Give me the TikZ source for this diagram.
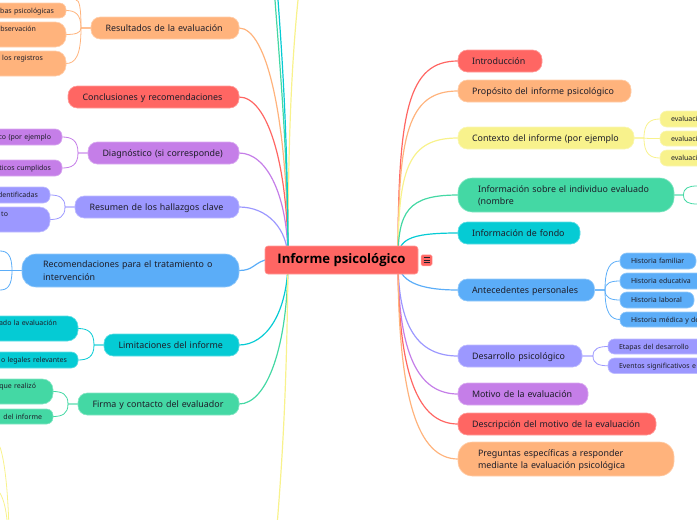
\documentclass[tikz,border=0pt]{standalone}
\usepackage{fontspec}
\setmainfont{Noto Sans}
\newfontfamily\ctrfont{Open Sans}
\usetikzlibrary{calc,backgrounds}
\definecolor{cred}{HTML}{FF6663}
\definecolor{corange}{HTML}{FFB37C}
\definecolor{cyellow}{HTML}{F8F28C}
\definecolor{cgreen}{HTML}{44D8A4}
\definecolor{cteal}{HTML}{05CBD4}
\definecolor{cblue}{HTML}{5BADF8}
\definecolor{clav}{HTML}{9C98FF}
\definecolor{cpurple}{HTML}{C57EE8}
\definecolor{cink}{HTML}{1E1E2A}
\tikzset{
  boxbase/.style={rectangle,outer sep=0pt,inner ysep=0pt,text=cink},
  mainfont/.style={font=\fontsize{8.9}{12.3}\selectfont},
  subfont/.style={font=\fontsize{7}{9}\selectfont},
  mainline/.style={line width=1.2pt,line cap=round},
  subline/.style={line width=0.8pt,line cap=round}
}
\newcommand{\mb}[1]{\mbox{\rule[-.29em]{0pt}{1.37em}#1}}
% name,x1,x2,y1,y2,colour,inset,align,font style,text
\newcommand{\mapbox}[9]{%
  \pgfmathsetmacro\bw{#3-#2}\pgfmathsetmacro\bh{#5-#4}%
  \pgfmathsetmacro\bcx{(#2+#3)/2}\pgfmathsetmacro\bcy{(#4+#5)/2}%
  \pgfmathsetmacro\br{.42*\bh}\pgfmathsetmacro\bt{\bw-2*#7}%
  \node[boxbase,#9,fill=#6,draw=#6!65!white,line width=.6pt,minimum width=\bw pt,minimum height=\bh pt,
    rounded corners=\br pt,text width=\bt pt,inner xsep=#7 pt,align=#8] (#1) at (\bcx,\bcy) {\boxtext};}
\newcommand{\mainR}[6]{\def\boxtext{#6}\mapbox{#1}{458}{#2}{#3}{#4}{#5}{\ifdim\dimexpr#4pt-#3pt\relax>30pt 20\else 14\fi}{left}{mainfont}}
\newcommand{\mainL}[6]{\def\boxtext{#6}\mapbox{#1}{#2}{239}{#3}{#4}{#5}{\ifdim\dimexpr#4pt-#3pt\relax>30pt 21\else 14.5\fi}{left}{mainfont}}
\newcommand{\subR}[7]{\def\boxtext{#7}\mapbox{#1}{#2}{#3}{#4}{#5}{#6}{11}{left}{subfont}}
\newcommand{\subL}[7][12]{\def\boxtext{#7}\mapbox{#2}{-160}{#3}{#4}{#5}{#6}{#1}{right}{subfont}}
% main connectors
\newcommand{\conR}[2]{\draw[mainline,#2] (#1.west) .. controls ($(#1.west)+(-50,0)$) and ($(cr)!.75!(cr|-#1.west)$) .. (cr);}
\newcommand{\conRb}[2]{\draw[mainline,#2] (#1.west) .. controls ($(#1.west)+(-40,0)$) and ($(cr)!.7!(cr|-#1.west)$) .. (cr);}
\newcommand{\conL}[2]{\draw[mainline,#2] (#1.east) .. controls ($(#1.east)+(28,0)$) and ($(cl)!.6!(cl|-#1.west)$) .. (cl);}
% bracket connectors: parent anchor, horizontal step, child anchor, colour
\newcommand{\bracket}[4]{%
  \coordinate (jj) at ($(#1)+(#2,0)$);
  \draw[subline,#4] (#1) -- (jj) .. controls ($(jj)!.8!(jj|-#3)$) and ($(#3)!.6!(jj|-#3)$) .. (#3);}
\begin{document}
\begin{tikzpicture}[x=1pt,y=-1pt]
\useasboundingbox (0,0) rectangle (697,520);
\coordinate (cl) at (288,260);
\coordinate (cr) at (398,260);
\coordinate (offtopA) at (298,0);
\coordinate (offtopB) at (278,0);
\coordinate (offtopC) at (275,0);
\coordinate (offbot) at (277.5,520);
\coordinate (offres) at (76,0);
\coordinate (offrecA) at (0,251);
\coordinate (offrecB) at (0,290);
\coordinate (offinfA) at (697,186);
\coordinate (offinfB) at (697,204);
\coordinate (offcornA) at (0,447);
\coordinate (offcornB) at (8.7,520);
\coordinate (offcornC) at (0,493);
\coordinate (offcornD) at (7,520);

% centre
\node[rectangle,fill=cred,draw=cred!65!white,line width=.6pt,rounded corners=3pt,minimum width=153pt,minimum height=28pt,inner sep=0pt,text=black,outer sep=0pt,font=\ctrfont\bfseries\fontsize{13.1}{15}\selectfont] (centre) at (341.5,260) {Informe psicológico};
\node[rectangle,fill=cred,draw=cred!65!white,line width=.5pt,rounded corners=1.5pt,minimum width=11pt,minimum height=11pt,inner sep=0pt] (menu) at (426.5,260.3) {};
\draw[cink,line width=.9pt] ($(menu.center)+(-3,-2.6)$) -- ($(menu.center)+(3,-2.6)$);
\draw[cink,line width=.9pt] ($(menu.center)+(-3,0)$) -- ($(menu.center)+(3,0)$);
\draw[cink,line width=.9pt] ($(menu.center)+(-3,2.6)$) -- ($(menu.center)+(3,2.6)$);

% right main
\mainR{intro}{542}{50}{72}{cred}{\mb{Introducción}}
\mainR{prop}{631}{80}{102}{corange}{\mb{Propósito del informe psicológico}}
\mainR{ctx}{634}{127}{149}{cyellow}{\mb{Contexto del informe (por ejemplo}}
\mainR{indiv}{674}{178}{212}{cgreen}{\mb{Información sobre el individuo evaluado}\\\mb{(nombre}}
\mainR{fondo}{580}{222}{244}{cteal}{\mb{Información de fondo}}
\mainR{antec}{594.5}{279}{301}{cblue}{\mb{Antecedentes personales}}
\mainR{desa}{582}{345}{367}{clav}{\mb{Desarrollo psicológico}}
\mainR{motivo}{588}{383}{405}{cpurple}{\mb{Motivo de la evaluación}}
\mainR{descr}{656}{413}{435}{cred}{\mb{Descripción del motivo de la evaluación}}
\mainR{preg}{674}{442}{476}{corange}{\mb{Preguntas específicas a responder}\\\mb{mediante la evaluación psicológica}}

% right subs
\subR{ev1}{660}{730}{111}{127}{cyellow}{\mb{evaluaci}}
\subR{ev2}{660}{730}{131}{146}{cyellow}{\mb{evaluaci}}
\subR{ev3}{660}{730}{150}{166}{cyellow}{\mb{evaluaci}}
\subR{hfam}{620}{696}{253}{269}{cblue}{\mb{Historia familiar}}
\subR{hedu}{620}{730}{273}{289}{cblue}{\mb{Historia educativa}}
\subR{hlab}{620}{694}{292}{308}{cblue}{\mb{Historia laboral}}
\subR{hmed}{620}{760}{312}{327}{cblue}{\mb{Historia médica y de}}
\subR{etap}{608}{730}{339}{354}{clav}{\mb{Etapas del desarrollo}}
\subR{even}{608}{760}{358}{373.5}{clav}{\mb{Eventos significativos e}}

% left main
\mainL{resul}{91}{17}{39}{corange}{\mb{Resultados de la evaluación}}
\mainL{concl}{68}{86}{108}{cred}{\mb{Conclusiones y recomendaciones}}
\mainL{diag}{88}{142}{164}{cpurple}{\mb{Diagnóstico (si corresponde)}}
\mainL{resum}{75}{196}{218}{clav}{\mb{Resumen de los hallazgos clave}}
\mainL{recom}{22}{254}{287}{cblue}{\mb{Recomendaciones para el tratamiento o}\\\mb{intervención}}
\mainL{limit}{104}{334}{356}{cteal}{\mb{Limitaciones del informe}}
\mainL{firma}{78}{393}{415}{cgreen}{\mb{Firma y contacto del evaluador}}

% left subs
\subL{r1}{66}{3}{18}{corange}{\mb{bas psicológicas}}
\subL[30]{r2}{66}{22}{47}{corange}{\mb{bservación}\\\mb{}}
\subL[23]{r3}{66}{51}{76}{corange}{\mb{los registros}\\\mb{}}
\subL[11]{d1}{62}{129}{145}{cpurple}{\mb{co (por ejemplo}}
\subL[11]{d2}{62}{160}{176}{cpurple}{\mb{ticos cumplidos}}
\subL{s1}{50}{187}{203}{clav}{\mb{dentificadas}}
\subL[42]{s2}{50}{207}{232}{clav}{\mb{to}\\\mb{}}
\subL[21]{l1}{78}{316}{341}{cteal}{\mb{ado la evaluación}\\\mb{}}
\subL[11]{l2}{78}{352}{368}{cteal}{\mb{o legales relevantes}}
\subL[17]{f1}{53}{379}{404}{cgreen}{\mb{que realizó}\\\mb{}}
\subL[11]{f2}{53}{409}{424}{cgreen}{\mb{del informe}}

\begin{scope}[on background layer]
\conR{intro}{cred}
\conR{prop}{corange}
\conR{ctx}{cyellow}
\conR{indiv}{cgreen}
\conR{fondo}{cteal}
\conRb{antec}{cblue}
\conRb{desa}{clav}
\conRb{motivo}{cpurple}
\conRb{descr}{cred}
\conRb{preg}{corange}
\conL{resul}{corange}
\conL{concl}{cred}
\conL{diag}{cpurple}
\conL{resum}{clav}
\conL{limit}{cteal}
\conL{firma}{cgreen}
\draw[mainline,cblue] (recom.east) .. controls ($(recom.east)+(14,0)$) and ($(centre.west)+(-12,4)$) .. (centre.west);
\draw[mainline,cyellow] (offtopA) .. controls (291,70) and (288,150) .. (cl);
\draw[mainline,cgreen] (offtopC) .. controls (281,80) and (288,160) .. (cl);
\draw[mainline,cteal] (offtopB) .. controls (284,80) and (288,160) .. (cl);
\draw[mainline,cyellow] (offbot) .. controls (283,450) and (287,380) .. (cl);

\bracket{ctx.east}{10}{ev1.west}{cyellow}
\bracket{ctx.east}{10}{ev2.west}{cyellow}
\bracket{ctx.east}{10}{ev3.west}{cyellow}
\bracket{indiv.east}{9.5}{offinfA}{cgreen}
\bracket{indiv.east}{9.5}{offinfB}{cgreen}
\bracket{antec.east}{10.5}{hfam.west}{cblue}
\bracket{antec.east}{10.5}{hedu.west}{cblue}
\bracket{antec.east}{10.5}{hlab.west}{cblue}
\bracket{antec.east}{10.5}{hmed.west}{cblue}
\bracket{desa.east}{11}{etap.west}{clav}
\bracket{desa.east}{11}{even.west}{clav}
\bracket{resul.west}{-10}{r1.east}{corange}
\bracket{resul.west}{-10}{r2.east}{corange}
\bracket{resul.west}{-10}{r3.east}{corange}
\bracket{resul.west}{-10}{offres}{corange}
\bracket{diag.west}{-10}{d1.east}{cpurple}
\bracket{diag.west}{-10}{d2.east}{cpurple}
\bracket{resum.west}{-10}{s1.east}{clav}
\bracket{resum.west}{-10}{s2.east}{clav}
\bracket{recom.west}{-10}{offrecA}{cblue}
\bracket{recom.west}{-10}{offrecB}{cblue}
\draw[subline,cblue] (recom.west) -- (0,270.5);
\bracket{limit.west}{-10}{l1.east}{cteal}
\bracket{limit.west}{-10}{l2.east}{cteal}
\bracket{firma.west}{-10}{f1.east}{cgreen}
\bracket{firma.west}{-10}{f2.east}{cgreen}
\draw[subline,cyellow] (offcornA) .. controls (5,462) and (7.5,490) .. (offcornB);
\draw[subline,cyellow] (offcornC) .. controls (4,500) and (6,510) .. (offcornD);
\end{scope}
\end{tikzpicture}
\end{document}
